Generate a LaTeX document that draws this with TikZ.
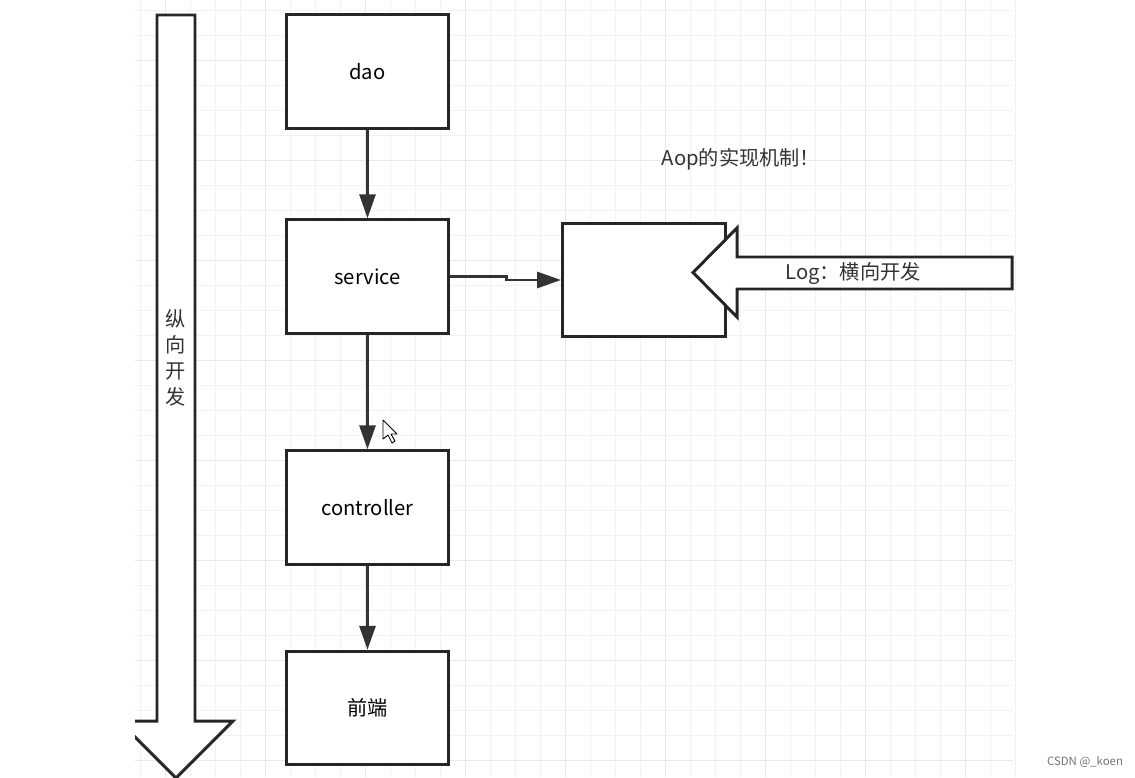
\documentclass[tikz,border=0pt]{standalone}
\usepackage{fontspec}
\newfontfamily\cjk{Noto Sans CJK SC}
\usetikzlibrary{arrows.meta}
\newcommand{\bw}{3.26cm}
\newcommand{\bh}{2.27cm}

\begin{document}
\begin{tikzpicture}[x=0.02cm,y=-0.02cm,
    layer/.style={draw=black!85, rectangle, minimum width=\bw, minimum height=\bh, line width=1.7pt, fill=white, inner sep=0pt, font=\cjk\fontsize{11.5}{14}\selectfont},
    conn/.style={draw=black!80, line width=1.7pt, -{Triangle[length=0.48cm,width=0.32cm]}},
    bigarrow/.style={draw=black!85, fill=white, line width=1.7pt, line join=miter},
    minor/.style={draw=black!5, line width=0.5pt},
    major/.style={draw=black!9, line width=0.5pt},
    txt/.style={font=\cjk\fontsize{11.5}{14}\selectfont, text=black!80}]
    \useasboundingbox (0,0) rectangle (1135,777);
    \fill[white] (0,0) rectangle (1135,777);
    \clip (135,0) rectangle (1135,777);

    % Grid
    \foreach \x in {140,165,...,1015} \draw[minor] (\x,0) -- (\x,777);
    \foreach \y in {10,35,...,777} \draw[minor] (135,\y) -- (1013,\y);
    \foreach \x in {165,265,...,965} \draw[major] (\x,0) -- (\x,777);
    \foreach \y in {60,160,...,760} \draw[major] (135,\y) -- (1013,\y);

    % Vertical development
    \draw[bigarrow] (157,15) -- (195,15) -- (195,721) -- (233,721) -- (176,778) -- (119,721) -- (157,721) -- cycle;
    \node[txt, align=center, font=\cjk\fontsize{11.5}{14.7}\selectfont] (vert) at (176,358) {纵\\向\\开\\发};

    % Layers
    \node[layer] (dao) at (367.5,71.5) {dao};
    \node[layer] (service) at (367.5,276.5) {service};
    \node[layer] (controller) at (367.5,507.5) {controller};
    \node[layer] (front) at (367.5,708) {前端};
    \node[layer] (aop) at (644,280) {};

    \draw[conn] (dao) -- (service);
    \draw[conn] (service) -- (controller);
    \draw[conn] (controller) -- (front);
    \draw[conn] (service.east) -- ++(56,0) |- (aop.west);

    % Horizontal development
    \draw[bigarrow] (1012,257) -- (737,257) -- (737,228) -- (693,272.5) -- (737,317) -- (737,289) -- (1012,289) -- cycle;
    \node[txt] (log) at (853,273) {Log：横向开发};
    \node[txt] (title) at (741,159) {Aop的实现机制！};

    % Mouse pointer
    \draw[fill=white, line width=0.5pt, line join=round] (383,420) -- (383,439) -- (388,435) -- (392,443) -- (395,441) -- (391,434) -- (397,434) -- cycle;

    \node[font=\cjk\fontsize{6.5}{8}\selectfont, text=black!55] (mark) at (1085,762) {CSDN @\_koen};
\end{tikzpicture}
\end{document}
